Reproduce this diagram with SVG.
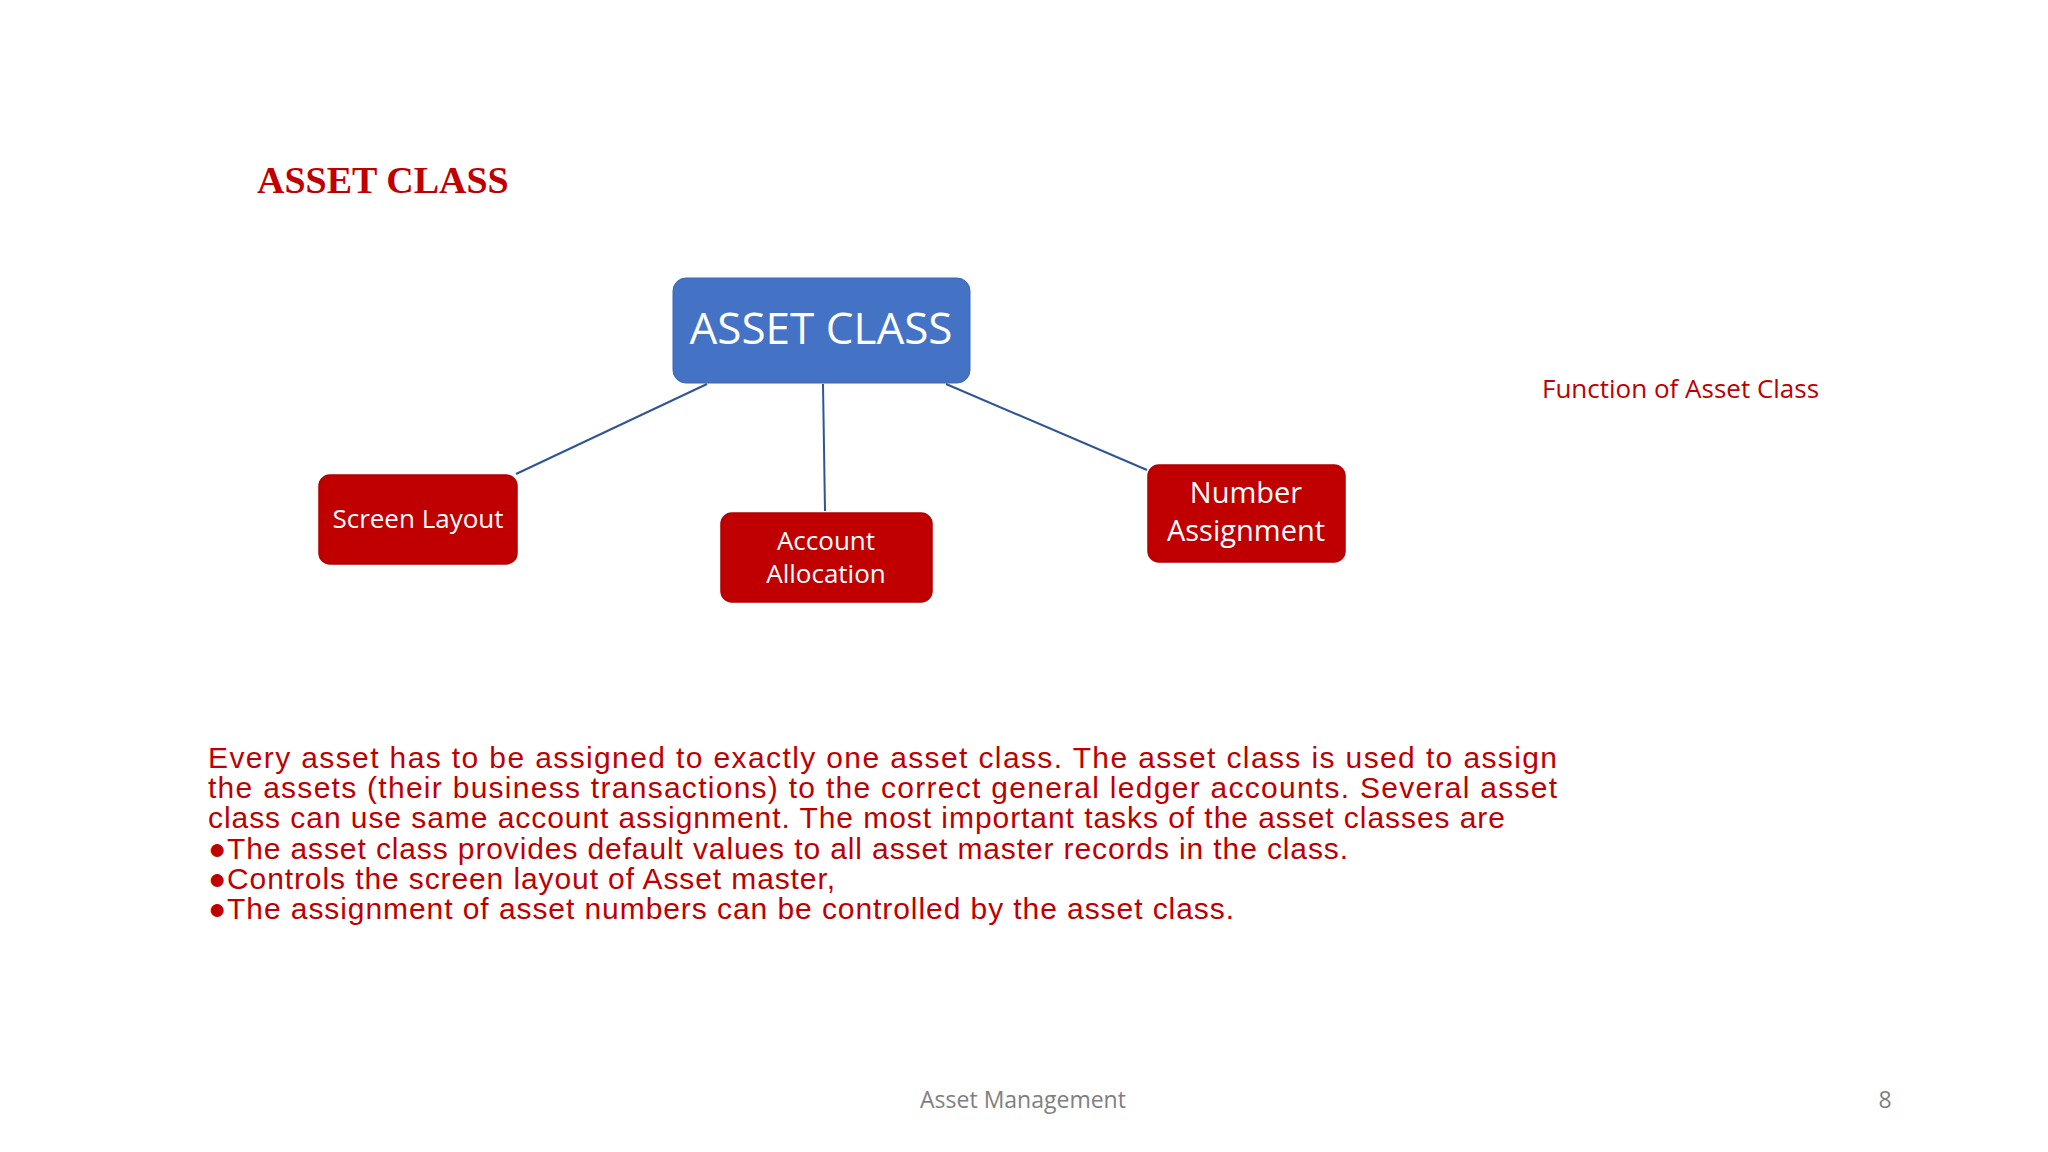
<svg xmlns="http://www.w3.org/2000/svg" width="2048" height="1152" viewBox="0 0 2048 1152">
<style>
.red{fill:#c00000;stroke:#b00000;stroke-width:1.5}
.wt{fill:#fff;font-family:"Open Sans","Noto Sans",sans-serif;text-anchor:middle}
.body{fill:#c00000;font-family:"Liberation Sans",Arial,sans-serif;font-size:30px}
line{stroke:#2f5597;stroke-width:2}
</style>
<rect width="2048" height="1152" fill="#fff"/>
<text x="257" y="193" font-family="Liberation Serif,serif" font-weight="bold" font-size="38" fill="#c00000">ASSET CLASS</text>
<g id="connectors">
<line x1="707" y1="384" x2="516" y2="474"/>
<line x1="823" y1="384" x2="825" y2="511"/>
<line x1="946" y1="384" x2="1147" y2="470"/>
</g>
<g id="asset-class"><rect x="673" y="278" width="297" height="105" rx="13" fill="#4472c4" stroke="#3d66b0"/><text class="wt" x="821" y="344" font-size="44">ASSET CLASS</text></g>
<g id="screen-layout"><rect class="red" x="319" y="475" width="198" height="89" rx="11"/><text class="wt" x="418" y="528" font-size="26">Screen Layout</text></g>
<g id="account-allocation"><rect class="red" x="721" y="513" width="211" height="89" rx="11"/><text class="wt" x="826" y="550" font-size="26">Account</text><text class="wt" x="826" y="583" font-size="26">Allocation</text></g>
<g id="number-assignment"><rect class="red" x="1148" y="465" width="197" height="97" rx="11"/><text class="wt" x="1246" y="503" font-size="29">Number</text><text class="wt" x="1246" y="541" font-size="29">Assignment</text></g>
<text x="1542" y="398" font-family="Open Sans,Noto Sans,sans-serif" font-size="26" fill="#c00000">Function of Asset Class</text>
<text class="body" x="208" y="768" textLength="1349" lengthAdjust="spacing">Every asset has to be assigned to exactly one asset class. The asset class is used to assign</text>
<text class="body" x="208" y="798" textLength="1349" lengthAdjust="spacing">the assets (their business transactions) to the correct general ledger accounts. Several asset</text>
<text class="body" x="208" y="828" textLength="1297" lengthAdjust="spacing">class can use same account assignment. The most important tasks of the asset classes are</text>
<text class="body" x="208" y="859" textLength="1140" lengthAdjust="spacing">●The asset class provides default values to all asset master records in the class.</text>
<text class="body" x="208" y="889" textLength="627" lengthAdjust="spacing">●Controls the screen layout of Asset master,</text>
<text class="body" x="208" y="919" textLength="1026" lengthAdjust="spacing">●The assignment of asset numbers can be controlled by the asset class.</text>
<text x="1023" y="1108" text-anchor="middle" font-family="Open Sans,Noto Sans,sans-serif" font-size="23" fill="#7f7f7f">Asset Management</text>
<text x="1885" y="1108" text-anchor="middle" font-family="Open Sans,Noto Sans,sans-serif" font-size="23" fill="#7f7f7f">8</text>
</svg>
